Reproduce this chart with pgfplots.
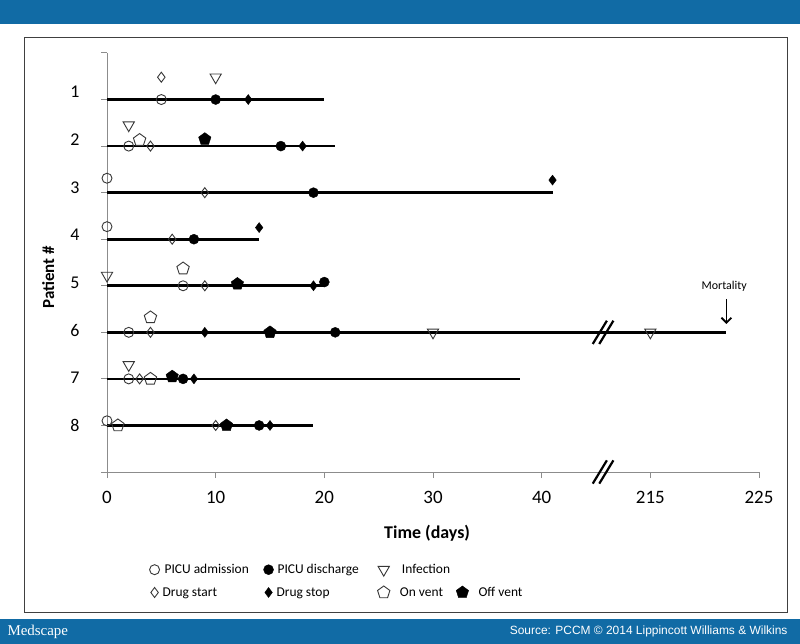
\documentclass[border=0pt]{standalone}
\usepackage{fontspec}
\setmainfont{Carlito}
\newfontfamily\arialfont{Liberation Sans}
\newfontfamily\logofont{Liberation Serif}
\usepackage{pgfplots}
\pgfplotsset{compat=1.18}
\usetikzlibrary{arrows.meta}

\definecolor{medblue}{RGB}{17,107,165}
\definecolor{axisgray}{RGB}{140,140,140}
\definecolor{opengray}{RGB}{55,55,55}

\begin{document}
\begin{tikzpicture}
% page frame: header, footer and the white panel
\begin{scope}[x=1bp,y=1bp]
\useasboundingbox (0,0) rectangle (800,644);
\fill[white] (0,0) rectangle (800,644);
\fill[medblue] (0,620) rectangle (800,644);
\fill[medblue] (0,0) rectangle (800,25);
\draw[black!75, line width=1bp] (24,31) rectangle (787,606);
\node[anchor=west, text=white, font=\logofont\fontsize{15}{15}\selectfont] at (4,12.5) {Medscape};
\node[anchor=east, text=white, font=\arialfont\fontsize{12}{12}\selectfont] at (791,12.5) {Source: PCCM © 2014 Lippincott Williams \& Wilkins};
\end{scope}

\begin{axis}[
  at={(107bp,172bp)}, anchor=south west,
  scale only axis, width=652bp, height=419bp,
  xmin=0, xmax=60, ymin=0, ymax=9,
  y dir=reverse,
  clip=false,
  % days past the axis break (215, 225) sit at 50, 60
  x filter/.expression={x>100 ? x-165 : x},
  axis x line*=bottom, axis y line*=left,
  axis line style={axisgray, line width=1bp},
  every tick/.style={axisgray, line width=1bp},
  tick align=outside,
  major tick length=6bp,
  xtick={0,10,20,30,40,50,60},
  xticklabels={0,10,20,30,40,215,225},
  ytick={0,1,...,9},
  yticklabels={},
  extra y ticks={0.84,1.864,2.889,3.913,4.937,5.962,6.986,8.01},
  extra y tick labels={1,2,3,4,5,6,7,8},
  extra y tick style={major tick length=0pt, yticklabel style={xshift=-24bp}},
  /pgf/number format/assume math mode=true,
  xticklabel style={font=\fontsize{19}{19}\selectfont, yshift=-10bp},
  yticklabel style={font=\fontsize{18}{18}\selectfont},
  xlabel={\textbf{Time (days)}},
  ylabel={\textbf{Patient \#}},
  xlabel style={font=\fontsize{18}{18}\selectfont, at={(axis description cs:0.491,-0.146)}, anchor=center},
  ylabel style={font=\fontsize{17}{17}\selectfont, at={(axis description cs:-0.09,0.465)}, anchor=center},
  legend columns=4,
  legend style={at={(axis description cs:0.065,-0.215)}, anchor=north west,
    draw=none, fill=none, inner sep=0pt,
    font=\fontsize{13.5}{15}\selectfont,
    /tikz/every even column/.append style={column sep=0pt},
    /tikz/row sep=8bp},
  legend cell align=left,
]

% patient time lines
\addplot[black, line width=2.6bp, forget plot] coordinates {(0,1) (20,1)};
\addplot[black, line width=2.6bp, forget plot] coordinates {(0,2) (21,2)};
\addplot[black, line width=2.6bp, forget plot] coordinates {(0,3) (41,3)};
\addplot[black, line width=2.6bp, forget plot] coordinates {(0,4) (14,4)};
\addplot[black, line width=2.6bp, forget plot] coordinates {(0,5) (20,5)};
\addplot[black, line width=2.6bp, forget plot] coordinates {(0,6) (222,6)};
\addplot[black, line width=2.6bp, forget plot] coordinates {(0,7) (38,7)};
\addplot[black, line width=2.6bp, forget plot] coordinates {(0,8) (19,8)};

% PICU admission
\addplot[only marks, mark=o, mark size=5bp, opengray, line width=0.9bp]
  coordinates {(5,1) (2,2) (0,2.69) (0,3.73) (7,5) (2,6) (2,7) (0,7.9)};
\addlegendentry{\makebox[100bp][l]{\hspace{3bp}PICU admission}}
% PICU discharge
\addplot[only marks, mark=*, mark size=5bp, black]
  coordinates {(10,1) (16,2) (19,3) (8,4) (20,4.92) (21,6) (7,7) (14,8)};
\addlegendentry{\makebox[100bp][l]{\hspace{2bp}PICU discharge}}
% Infection
\addplot[only marks, mark=triangle, mark size=6.5bp, opengray, line width=0.9bp,
  mark options={rotate=180}]
  coordinates {(10,0.52) (2,1.55) (0,4.78) (30,6) (215,6) (2,6.7)};
\addlegendentry{\makebox[60bp][l]{\hspace{10bp}Infection}}
\addlegendimage{empty legend}
\addlegendentry{}
% Drug start
\addplot[only marks, mark=diamond, mark size=5bp, opengray, line width=0.9bp]
  coordinates {(5,0.52) (4,2) (9,3) (6,4) (9,5) (4,6) (3,7) (10,8)};
\addlegendentry{\makebox[100bp][l]{\hspace{1bp}Drug start}}
% Drug stop
\addplot[only marks, mark=diamond*, mark size=5bp, black]
  coordinates {(13,1) (18,2) (41,2.73) (14,3.75) (19,5) (9,6) (8,7) (15,8)};
\addlegendentry{\makebox[100bp][l]{\hspace{1bp}Drug stop}}
% On vent
\addplot[only marks, mark=pentagon, mark size=6.5bp, opengray, line width=0.9bp]
  coordinates {(3,1.87) (7,4.63) (4,5.68) (4,7) (1,8)};
\addlegendentry{\makebox[60bp][l]{\hspace{8bp}On vent}}
% Off vent
\addplot[only marks, mark=pentagon*, mark size=6.5bp, black]
  coordinates {(9,1.85) (12,4.96) (15,6) (6,6.95) (11,8)};
\addlegendentry{\hspace{8bp}Off vent}

% axis breaks and mortality
\draw[black, line width=2.2bp] (axis cs:44.7,6.25) -- (axis cs:46.0,5.75);
\draw[black, line width=2.2bp] (axis cs:45.3,6.25) -- (axis cs:46.6,5.75);
\draw[black, line width=2.2bp] (axis cs:44.7,9.25) -- (axis cs:46.0,8.75);
\draw[black, line width=2.2bp] (axis cs:45.3,9.25) -- (axis cs:46.6,8.75);
\draw[black, line width=1.8bp, -{Straight Barb[length=5bp,width=10bp]}]
  (axis cs:57,5.28) -- (axis cs:57,5.82);
\node[font=\fontsize{12}{12}\selectfont] at (axis cs:56.8,5.02) {Mortality};
\end{axis}
\end{tikzpicture}
\end{document}
